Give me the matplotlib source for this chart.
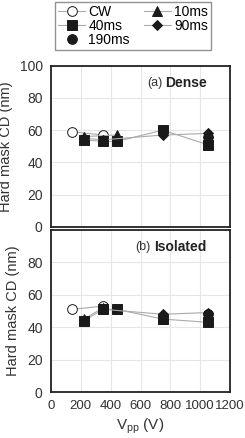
import matplotlib
matplotlib.use("Agg")
import matplotlib.pyplot as plt

plt.rcParams['font.family'] = ['Liberation Sans', 'DejaVu Sans']
plt.rcParams['font.size'] = 10

series = ["CW", "10ms", "40ms", "90ms", "190ms"]
markers = {"CW": "o", "10ms": "^", "40ms": "s", "90ms": "D", "190ms": "o"}

# Vpp (V) and hard mask CD (nm) per pulse setting, (a) dense
dense_v = {
    "CW": [140, 350],
    "10ms": [220, 440],
    "40ms": [220, 350, 440, 750, 1050],
    "90ms": [220, 350, 750, 1050],
    "190ms": [350, 1050],
}
dense_cd = {
    "CW": [59, 57],
    "10ms": [56, 57],
    "40ms": [54, 53, 53, 60, 51],
    "90ms": [55, 54, 57, 58],
    "190ms": [53, 56],
}
# (b) isolated
iso_v = {
    "CW": [140, 350],
    "10ms": [220, 350],
    "40ms": [220, 350, 440, 750, 1050],
    "90ms": [350, 750, 1050],
    "190ms": [350, 1050],
}
iso_cd = {
    "CW": [51, 53],
    "10ms": [45, 52],
    "40ms": [44, 51, 51, 45, 43],
    "90ms": [51, 48, 49],
    "190ms": [51, 48],
}

fig = plt.figure(figsize=(2.45, 4.38), dpi=100)
ax1 = fig.add_axes([0.208, 0.482, 0.731, 0.368])
ax2 = fig.add_axes([0.208, 0.105, 0.731, 0.370])


def draw(ax, vs, cds):
    handles = {}
    for s in series:
        face = "white" if s == "CW" else "#1a1a1a"
        ls = "none" if s == "190ms" else "-"
        h, = ax.plot(vs[s], cds[s], linestyle=ls, color="#aaaaaa", lw=0.8,
                     marker=markers[s], markersize=7 if markers[s] != "D" else 5.5,
                     markerfacecolor=face, markeredgecolor="#1a1a1a",
                     markeredgewidth=0.7, zorder=3, label=s)
        handles[s] = h
    ax.set_xlim(0, 1200)
    ax.set_ylim(0, 100)
    ax.set_xticks(range(0, 1201, 200))
    ax.set_yticks(range(0, 101, 20))
    ax.grid(True, color="#e6e6e6", lw=0.8)
    ax.set_axisbelow(True)
    ax.tick_params(length=0, pad=6, colors="#333333", labelsize=10)
    ax.tick_params(axis="x", labelsize=9.5)
    for sp in ax.spines.values():
        sp.set_linewidth(1.3)
        sp.set_color("#222222")
    ax.set_ylabel("Hard mask CD (nm)", color="#333333", labelpad=5, fontsize=10.5)
    return handles


handles = draw(ax1, dense_v, dense_cd)
draw(ax2, iso_v, iso_cd)

ax1.set_xticklabels([])
ax2.set_yticks(range(0, 81, 20))
ax2.set_xlabel("V$_{\\mathregular{pp}}$ (V)", color="#333333", labelpad=3, fontsize=11)

ax1.text(0.54, 0.89, "(a)", transform=ax1.transAxes, fontsize=9,
         va="center", color="#333333")
ax1.text(0.635, 0.89, "Dense", transform=ax1.transAxes, fontsize=10,
         va="center", fontweight="bold", color="#222222")
ax2.text(0.47, 0.895, "(b)", transform=ax2.transAxes, fontsize=9,
         va="center", color="#333333")
ax2.text(0.575, 0.895, "Isolated", transform=ax2.transAxes, fontsize=10,
         va="center", fontweight="bold", color="#222222")

# column-major fill: rows read CW,10ms / 40ms,90ms / 190ms
order = ["CW", "40ms", "190ms", "10ms", "90ms"]
leg = fig.legend(handles=[handles[s] for s in order],
                 loc="upper left", bbox_to_anchor=(0.224, 0.996), ncol=2,
                 frameon=True, fancybox=False, edgecolor="#777777",
                 handlelength=2.0, handletextpad=0.2, columnspacing=1.0,
                 labelspacing=0.02, borderpad=0.2, borderaxespad=0.0,
                 fontsize=10)
leg.get_frame().set_linewidth(1.0)

fig.savefig("out.png", dpi=100)
